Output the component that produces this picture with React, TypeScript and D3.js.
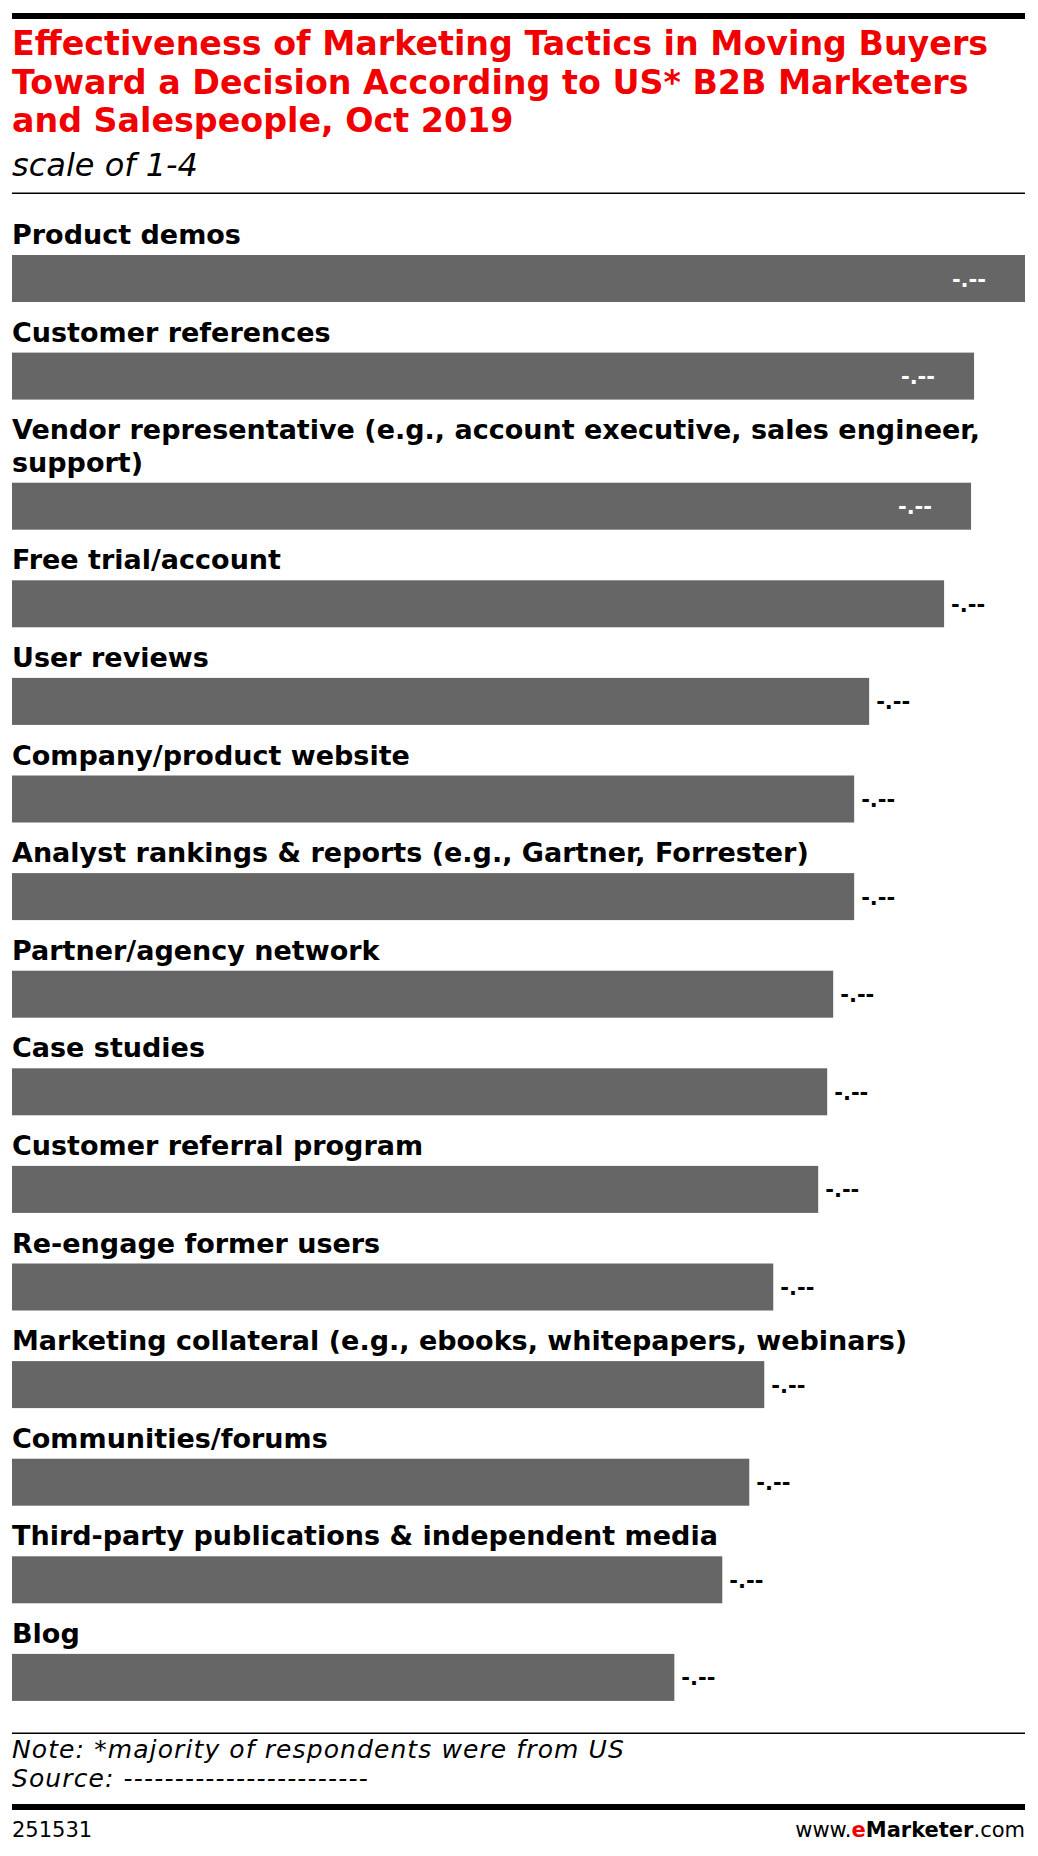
import * as d3 from "d3";

const titleLines = [
  "Effectiveness of Marketing Tactics in Moving Buyers",
  "Toward a Decision According to US* B2B Marketers",
  "and Salespeople, Oct 2019",
];
const subtitle = "scale of 1-4";

const categories = [
  "Product demos",
  "Customer references",
  "Vendor representative (e.g., account executive, sales engineer, support)",
  "Free trial/account",
  "User reviews",
  "Company/product website",
  "Analyst rankings & reports (e.g., Gartner, Forrester)",
  "Partner/agency network",
  "Case studies",
  "Customer referral program",
  "Re-engage former users",
  "Marketing collateral (e.g., ebooks, whitepapers, webinars)",
  "Communities/forums",
  "Third-party publications & independent media",
  "Blog",
];

// values are masked in the source ("-.--"); bar lengths
const values = [3.38, 3.21, 3.2, 3.11, 2.86, 2.81, 2.81, 2.74, 2.72, 2.69, 2.54, 2.51, 2.46, 2.37, 2.21];
const valueLabels = values.map(() => "-.--");

const note = "Note: *majority of respondents were from US";
const sourceLabel = "Source: ";
const sourceText = "------------------------";
const chartId = "251531";

const W = 1038;
const H = 1856;
const left = 12;
const right = 1025;
const red = "#f00000";
const barColor = "#666666";
const font = "'DejaVu Sans', sans-serif";

// crude wrap so that the long vendor label breaks like the original
function wrap(text: string, maxChars: number): string[] {
  const words = text.split(" ");
  const lines: string[] = [];
  let cur = "";
  words.forEach((w) => {
    const next = cur ? cur + " " + w : w;
    if (next.length > maxChars && cur) {
      lines.push(cur);
      cur = w;
    } else {
      cur = next;
    }
  });
  if (cur) lines.push(cur);
  return lines;
}

export default function App() {
  const x = d3.scaleLinear().domain([0, d3.max(values)!]).range([left, right]);

  const firstBarTop = 255;
  const pitch = 97.6;
  const lineH = 32.5;
  const barH = 47;

  let extra = 0;
  const rows = categories.map((c, i) => {
    const lines = wrap(c, 66);
    extra += (lines.length - 1) * lineH;
    const top = firstBarTop + i * pitch + extra;
    return { name: c, lines, top, value: values[i], label: valueLabels[i] };
  });

  return (
    <svg
      width={W}
      height={H}
      style={{ position: "absolute", left: 0, top: 0, display: "block", background: "#fff" }}
    >
      <rect x={left} y={13} width={right - left} height={6} fill="#000" />
      {titleLines.map((t, i) => (
        <text
          key={t}
          x={left}
          y={55 + i * 38.5}
          fill={red}
          fontFamily={font}
          fontWeight="bold"
          fontSize={33.3}
        >
          {t}
        </text>
      ))}
      <text x={left} y={176} fontFamily={font} fontStyle="italic" fontSize={32} fill="#000">
        {subtitle}
      </text>
      <rect x={left} y={192.5} width={right - left} height={1.5} fill="#000" />

      {rows.map((r) => {
        const xe = x(r.value);
        const inside = xe > 960;
        return (
          <g key={r.name}>
            {r.lines.map((l, j) => (
              <text
                key={j}
                x={left}
                y={r.top - 11 - (r.lines.length - 1 - j) * lineH}
                fontFamily={font}
                fontWeight="bold"
                fontSize={27}
                fill="#000"
              >
                {l}
              </text>
            ))}
            <rect x={left} y={r.top} width={xe - left} height={barH} fill={barColor} />
            <text
              x={inside ? xe - 39 : xe + 7}
              y={r.top + barH / 2 + 8}
              textAnchor={inside ? "end" : "start"}
              fontFamily={font}
              fontWeight="bold"
              fontSize={21}
              fill={inside ? "#fff" : "#000"}
            >
              {r.label}
            </text>
          </g>
        );
      })}

      <rect x={left} y={1732.5} width={right - left} height={1.5} fill="#000" />
      <text x={left} y={1758} fontFamily={font} fontStyle="italic" fontSize={25} letterSpacing={1.1} fill="#000">
        {note}
      </text>
      <text x={left} y={1787} fontFamily={font} fontStyle="italic" fontSize={25} letterSpacing={1.1} fill="#000">
        {sourceLabel}
        <tspan letterSpacing={1.2}>{sourceText}</tspan>
      </text>
      <rect x={left} y={1804} width={right - left} height={6} fill="#000" />
      <text x={left} y={1837} fontFamily={font} fontSize={21} fill="#000">
        {chartId}
      </text>
      <text x={right} y={1837} textAnchor="end" fontFamily={font} fontSize={21} fill="#000">
        <tspan>www.</tspan>
        <tspan fontWeight="bold" fill={red}>e</tspan>
        <tspan fontWeight="bold">Marketer</tspan>
        <tspan>.com</tspan>
      </text>
    </svg>
  );
}
